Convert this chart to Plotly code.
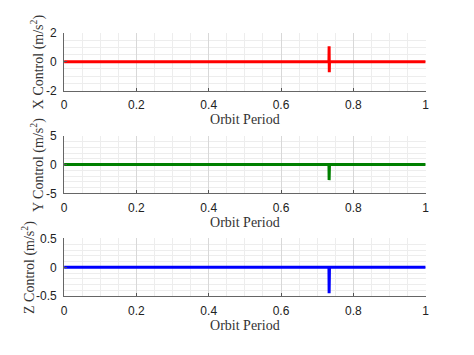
import plotly.graph_objects as go

# Data
t = [0.0, 0.7325, 0.733, 0.7335, 0.734, 1.0]
x_ctrl = [0.0, 0.0, 1.07, -0.73, 0.0, 0.0]
y_ctrl = [0.0, 0.0, -2.7, 0.0, 0.0, 0.0]
z_ctrl = [0.0, 0.0, -0.45, 0.0, 0.0, 0.0]

y_titles = ["X Control (m/s<sup>2</sup>)", "Y Control (m/s<sup>2</sup>)", "Z Control (m/s<sup>2</sup>)"]
x_title = "Orbit Period"
y_ranges = [[-2, 2], [-5, 5], [-0.5, 0.5]]
y_ticks = [[-2, 0, 2], [-5, 0, 5], [-0.5, 0, 0.5]]
y_ticklabels = [["-2", "0", "2"], ["-5", "0", "5"], ["-0.5", "0", "0.5"]]
y_minor = [0.5, 1.0, 0.1]
x_ticks = [0, 0.2, 0.4, 0.6, 0.8, 1]
x_ticklabels = ["0", "0.2", "0.4", "0.6", "0.8", "1"]
colors = ["#ff0000", "#008000", "#0000ff"]
series = [x_ctrl, y_ctrl, z_ctrl]

W, H = 474, 355
px_x = (62, 429)
px_y = [(27, 87), (134, 194), (241, 301)]
title_x = [35, 35, 26]

fig = go.Figure()
serif = "Liberation Serif"
sans = "Liberation Sans"

for i in range(3):
    ax = "" if i == 0 else str(i + 1)
    fig.add_trace(go.Scatter(x=t, y=series[i], mode="lines",
                             line=dict(color=colors[i], width=3),
                             xaxis="x" + ax, yaxis="y" + ax, showlegend=False))
    y0, y1 = px_y[i]
    dom_y = [1 - y1 / H, 1 - y0 / H]
    common_grid = dict(showgrid=True, gridcolor="#d8d8d8", gridwidth=1)
    fig.layout["xaxis" + ax] = dict(
        domain=[px_x[0] / W, px_x[1] / W], anchor="y" + ax, range=[0, 1],
        tickvals=x_ticks, ticktext=x_ticklabels, ticks="inside", ticklen=3,
        tickcolor="#555", showline=True, linecolor="#666", linewidth=1,
        zeroline=False, ticklabelstandoff=3, **common_grid,
        minor=dict(dtick=0.05, showgrid=True, gridcolor="#ededed"),
        tickfont=dict(family=sans, size=12, color="#222"),
        title=dict(text=x_title, font=dict(family=serif, size=14, color="#333"), standoff=2),
    )
    fig.layout["yaxis" + ax] = dict(
        domain=dom_y, anchor="x" + ax, range=y_ranges[i],
        tickvals=y_ticks[i], ticktext=y_ticklabels[i], ticks="inside", ticklen=3,
        tickcolor="#555", showline=True, linecolor="#666", linewidth=1,
        zeroline=False, ticklabelstandoff=4, **common_grid,
        minor=dict(dtick=y_minor[i], showgrid=True, gridcolor="#ededed"),
        tickfont=dict(family=sans, size=12, color="#222"),
    )
    fig.add_annotation(text=y_titles[i], xref="paper", yref="paper",
                       x=title_x[i] / W, y=1 - (y0 + y1) / 2 / H, textangle=-90,
                       showarrow=False, xanchor="center", yanchor="middle",
                       font=dict(family=serif, size=14, color="#333"))

fig.update_layout(width=W, height=H, margin=dict(l=0, r=0, t=0, b=0),
                  plot_bgcolor="white", paper_bgcolor="white")
fig.write_html("out.html", config={"displayModeBar": False},
               post_script="document.body.style.margin='0';")
